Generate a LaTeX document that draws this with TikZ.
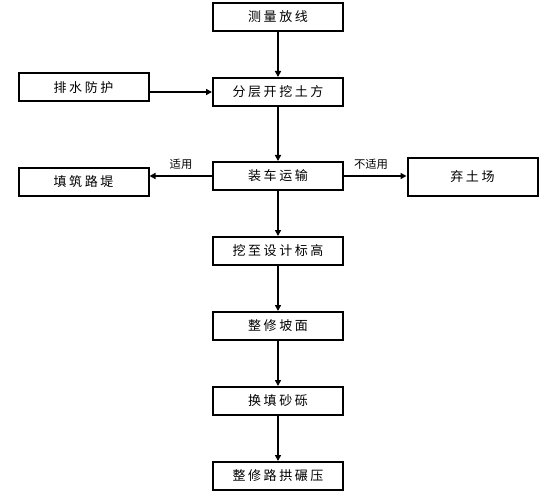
\documentclass[tikz,border=0pt]{standalone}
\usepackage{fontspec}
\usepackage{tikz}
\usetikzlibrary{arrows.meta}
\newfontfamily\cjkbox[LetterSpace=20]{Noto Sans CJK SC}
\newfontfamily\cjklbl{Noto Sans CJK SC}

\begin{document}
\begin{tikzpicture}[x=0.75pt, y=-0.75pt,
    box/.style={draw, line width=1.5pt, minimum width=97.5pt, minimum height=21pt,
                inner sep=0pt, font=\cjkbox\fontsize{9.75}{11}\selectfont},
    lbl/.style={inner sep=0pt, font=\cjklbl\fontsize{8.5}{10}\selectfont},
    arr/.style={-{Triangle[length=4.5pt,width=4.5pt]}, line width=1.1pt}]
        \useasboundingbox (0, 0) rectangle (555, 495);

        % main column
        \node[box] (cl)  at (278, 17)  {测量放线};
        \node[box] (fc)  at (278, 92)  {分层开挖土方};
        \node[box] (zc)  at (278, 176) {装车运输};
        \node[box] (wz)  at (278, 251) {挖至设计标高};
        \node[box] (zx)  at (278, 326) {整修坡面};
        \node[box] (ht)  at (278, 401) {换填砂砾};
        \node[box] (lg)  at (278, 476) {整修路拱碾压};

        % side boxes
        \node[box] (ps)  at (83.5, 87.5) {排水防护};
        \node[box] (tz)  at (83.5, 182)  {填筑路堤};
        \node[box, minimum height=28.5pt] (qt) at (472.5, 177) {弃土场};

        \draw[arr] (cl) -- (fc);
        \draw[arr] (fc) -- (zc);
        \draw[arr] (zc) -- (wz);
        \draw[arr] (wz) -- (zx);
        \draw[arr] (zx) -- (ht);
        \draw[arr] (ht) -- (lg);

        \draw[arr] (ps.east |- fc.west) -- (fc.west);
        \draw[arr] (zc.west) -- (tz.east |- zc.west);
        \draw[arr] (zc.east) -- (qt.west |- zc.east);

        \node[lbl] (sy)  at (181, 164) {适用};
        \node[lbl] (bsy) at (371, 164) {不适用};

    \end{tikzpicture}
\end{document}
